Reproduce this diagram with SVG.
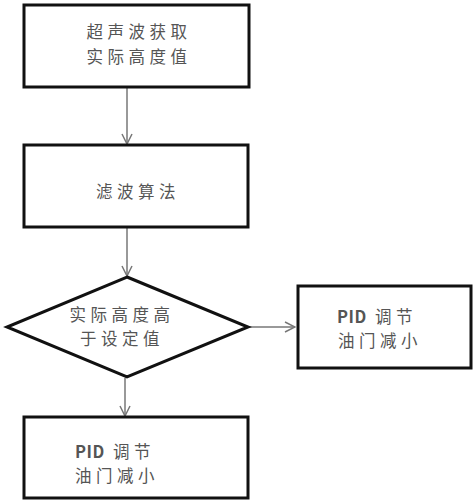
<svg xmlns="http://www.w3.org/2000/svg" width="474" height="504" viewBox="0 0 474 504">
<style>
.box{fill:#fff;stroke:#111;stroke-width:3}
.t{font-family:"Noto Sans CJK SC","Liberation Sans",sans-serif;font-size:16.5px;fill:#555;letter-spacing:4.5px}
.l{letter-spacing:0.5px;font-weight:bold}
.c{stroke:#777;stroke-width:1.5;fill:none}
</style>
<defs>
<marker id="ah" viewBox="0 0 12 12" refX="11" refY="6" markerWidth="12" markerHeight="12" markerUnits="userSpaceOnUse" orient="auto">
<path d="M1,1 L11,6 L1,11" fill="none" stroke="#777" stroke-width="1.5"/>
</marker>
</defs>
<rect width="474" height="504" fill="#fff"/>
<g id="connectors">
<line class="c" x1="127" y1="88" x2="127" y2="144" marker-end="url(#ah)"/>
<line class="c" x1="127" y1="228" x2="127" y2="276" marker-end="url(#ah)"/>
<line class="c" x1="249" y1="327" x2="295" y2="327" marker-end="url(#ah)"/>
<line class="c" x1="125" y1="378" x2="125" y2="416" marker-end="url(#ah)"/>
</g>
<g id="n1">
<rect class="box" x="24" y="5" width="225" height="82"/>
<text class="t" x="139" y="38" text-anchor="middle">超声波获取</text>
<text class="t" x="139" y="63" text-anchor="middle">实际高度值</text>
</g>
<g id="n2">
<rect class="box" x="24" y="145" width="224" height="82"/>
<text class="t" x="138" y="198" text-anchor="middle">滤波算法</text>
</g>
<g id="n3">
<polygon class="box" points="127,277 248,327 127,377 7,327"/>
<text class="t" x="122" y="321" text-anchor="middle">实际高度高</text>
<text class="t" x="122" y="345" text-anchor="middle">于设定值</text>
</g>
<g id="n4">
<rect class="box" x="298" y="286" width="173" height="82"/>
<text class="t" x="337" y="323"><tspan class="l">PID</tspan> 调节</text>
<text class="t" x="338" y="347">油门减小</text>
</g>
<g id="n5">
<rect class="box" x="24" y="417" width="224" height="81"/>
<text class="t" x="75" y="458"><tspan class="l">PID</tspan> 调节</text>
<text class="t" x="75" y="482">油门减小</text>
</g>
</svg>
